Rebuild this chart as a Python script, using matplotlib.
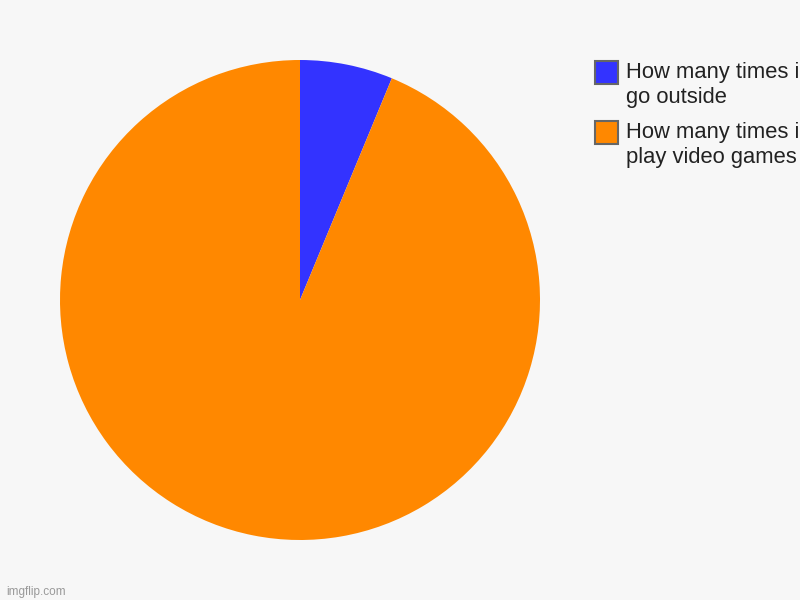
import matplotlib.pyplot as plt
from matplotlib.patches import Rectangle

labels = ["How many times i\ngo outside", "How many times i\nplay video games"]
values = [1, 15]
colors = ["#3333ff", "#ff8800"]

plt.rcParams['font.family'] = ['Liberation Sans', 'DejaVu Sans']

fig = plt.figure(figsize=(8, 6), dpi=100, facecolor="#f7f7f7")
ax = fig.add_axes([0.075, 0.1, 0.6, 0.8])
ax.set_facecolor("#f7f7f7")
ax.pie(values, colors=colors, startangle=90, counterclock=False,
       wedgeprops=dict(linewidth=0))
ax.set_xlim(-1, 1)
ax.set_ylim(-1, 1)
ax.set_aspect("equal")

# legend drawn by hand so the text runs off the right edge like the original
for i, (lab, col) in enumerate(zip(labels, colors)):
    top = 61 + i * 60
    fig.patches.append(Rectangle((595 / 800, 1 - (top + 23) / 600), 23 / 800, 23 / 600,
                                 transform=fig.transFigure, facecolor=col,
                                 edgecolor="#666666", linewidth=1.5))
    fig.text(626 / 800, 1 - (top + 1) / 600, lab, fontsize=15.8, color="#222222",
             va="top", ha="left", linespacing=1.25)

fig.text(0.008, 0.008, "imgflip.com", fontsize=8.5, color="#999999")

fig.savefig("out.png", dpi=100, facecolor=fig.get_facecolor())
